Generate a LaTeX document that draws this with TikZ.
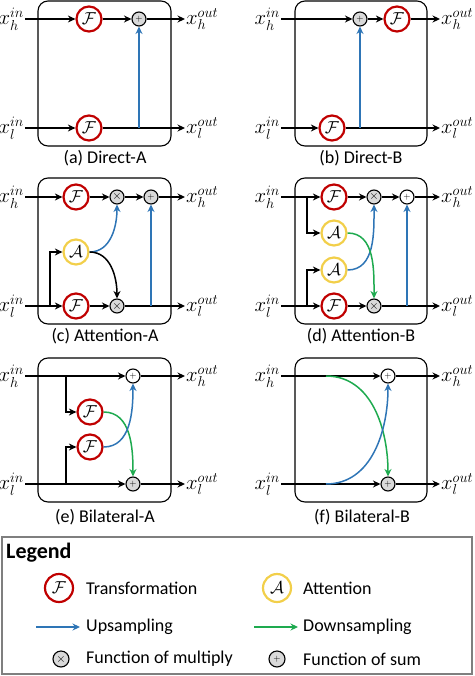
\documentclass[tikz,border=0pt]{standalone}
\usepackage{fontspec}
\setmainfont{Carlito}
\usetikzlibrary{arrows.meta}
\definecolor{fred}{HTML}{C00000}
\definecolor{agold}{HTML}{F2CF4A}
\definecolor{upblue}{HTML}{2E75B6}
\definecolor{dngreen}{HTML}{1EAA4F}
\definecolor{opgray}{HTML}{D9D9D9}
\definecolor{lgframe}{HTML}{7F7F7F}
\tikzset{
 fnode/.style={circle, draw=fred, line width=2.2pt, minimum size=25pt, inner sep=0pt, fill=white, font=\fontsize{17}{17}\selectfont},
 anode/.style={fnode, draw=agold},
 opnode/.style={circle, draw=black, line width=1.1pt, minimum size=14pt, inner sep=0pt, fill=opgray, font=\fontsize{9}{9}\selectfont},
 opw/.style={opnode, fill=white},
 tnode/.style={opnode, font=\fontsize{12}{12}\selectfont},
 panel/.style={draw, line width=1.1pt, rounded corners=10pt},
 conn/.style={line width=1.5pt, -{Stealth[length=7.5pt,width=7pt]}},
 upar/.style={conn, draw=upblue},
 dnar/.style={conn, draw=dngreen},
 lab/.style={inner sep=1pt, font=\fontsize{20}{20}\selectfont},
 captxt/.style={inner sep=0pt, font=\fontsize{18}{18}\selectfont},
}
\begin{document}
\begin{tikzpicture}[x=1pt,y=-1pt]
\useasboundingbox (0,0) rectangle (474,676);
% ---------- (a) Direct-A
\draw[panel] (38,1) rectangle (171,146);
\node[lab, anchor=east] (ahin) at (25,19) {$x^{in}_h$};
\node[lab, anchor=east] (alin) at (25,128) {$x^{in}_l$};
\node[lab, anchor=west] (ahout) at (185,19) {$x^{out}_h$};
\node[lab, anchor=west] (alout) at (185,128) {$x^{out}_l$};
\node[fnode] (aF1) at (89,19) {$\mathcal{F}$};
\node[fnode] (aF2) at (89,128) {$\mathcal{F}$};
\node[opnode] (aS) at (139,19) {$+$};
\coordinate (aj) at (139,128);
\draw[conn] (ahin) -- (aF1);
\draw[conn] (aF1) -- (aS);
\draw[conn] (aS) -- (ahout);
\draw[conn] (alin) -- (aF2);
\draw[conn] (aF2) -- (alout);
\draw[upar] (aj) -- (aS);
\node[captxt] (acap) at (105,158) {(a) Direct-A};
% ---------- (b) Direct-B
\draw[panel] (295,1) rectangle (427,146);
\node[lab, anchor=east] (bhin) at (281,19) {$x^{in}_h$};
\node[lab, anchor=east] (blin) at (281,128) {$x^{in}_l$};
\node[lab, anchor=west] (bhout) at (440,19) {$x^{out}_h$};
\node[lab, anchor=west] (blout) at (440,128) {$x^{out}_l$};
\node[opnode] (bS) at (360,19) {$+$};
\node[fnode] (bF1) at (397,19) {$\mathcal{F}$};
\node[fnode] (bF2) at (332,128) {$\mathcal{F}$};
\coordinate (bj) at (360,128);
\draw[conn] (bhin) -- (bS);
\draw[conn] (bS) -- (bF1);
\draw[conn] (bF1) -- (bhout);
\draw[conn] (blin) -- (bF2);
\draw[conn] (bF2) -- (blout);
\draw[upar] (bj) -- (bS);
\node[captxt] (bcap) at (361,158) {(b) Direct-B};
% ---------- (c) Attention-A
\draw[panel] (38,178) rectangle (171,324);
\node[lab, anchor=east] (chin) at (25,197) {$x^{in}_h$};
\node[lab, anchor=east] (clin) at (25,306) {$x^{in}_l$};
\node[lab, anchor=west] (chout) at (185,197) {$x^{out}_h$};
\node[lab, anchor=west] (clout) at (185,306) {$x^{out}_l$};
\node[fnode] (cF1) at (76,197) {$\mathcal{F}$};
\node[fnode] (cF2) at (76,306) {$\mathcal{F}$};
\node[anode] (cA) at (76,252) {$\mathcal{A}$};
\node[tnode] (cT1) at (117,197) {$\times$};
\node[opnode] (cS) at (151,197) {$+$};
\node[tnode] (cT2) at (117,306) {$\times$};
\coordinate (cbr) at (50,306);
\coordinate (cj) at (151,306);
\draw[conn] (chin) -- (cF1);
\draw[conn] (cF1) -- (cT1);
\draw[conn] (cT1) -- (cS);
\draw[conn] (cS) -- (chout);
\draw[conn] (clin) -- (cF2);
\draw[conn] (cF2) -- (cT2);
\draw[conn] (cT2) -- (clout);
\draw[conn] (cbr) |- (cA);
\draw[upar] (cA.east) to[out=0,in=-90] (cT1.south);
\draw[conn] (cA.east) to[out=0,in=90] (cT2.north);
\draw[upar] (cj) -- (cS);
\node[captxt] (ccap) at (105,336) {(c) Attention-A};
% ---------- (d) Attention-B
\draw[panel] (295,178) rectangle (427,324);
\node[lab, anchor=east] (dhin) at (281,197) {$x^{in}_h$};
\node[lab, anchor=east] (dlin) at (281,306) {$x^{in}_l$};
\node[lab, anchor=west] (dhout) at (440,197) {$x^{out}_h$};
\node[lab, anchor=west] (dlout) at (440,306) {$x^{out}_l$};
\node[fnode] (dF1) at (334,197) {$\mathcal{F}$};
\node[fnode] (dF2) at (334,306) {$\mathcal{F}$};
\node[anode] (dA1) at (334,233) {$\mathcal{A}$};
\node[anode] (dA2) at (334,270) {$\mathcal{A}$};
\node[tnode] (dT1) at (374,197) {$\times$};
\node[opw] (dS) at (407,197) {$+$};
\node[tnode] (dT2) at (374,306) {$\times$};
\coordinate (dbr1) at (307,197);
\coordinate (dbr2) at (307,306);
\coordinate (dj) at (407,306);
\draw[conn] (dhin) -- (dF1);
\draw[conn] (dF1) -- (dT1);
\draw[conn] (dT1) -- (dS);
\draw[conn] (dS) -- (dhout);
\draw[conn] (dlin) -- (dF2);
\draw[conn] (dF2) -- (dT2);
\draw[conn] (dT2) -- (dlout);
\draw[conn] (dbr1) |- (dA1);
\draw[conn] (dbr2) |- (dA2);
\draw[upar] (dA2.east) to[out=0,in=-90] (dT1.south);
\draw[dnar] (dA1.east) to[out=0,in=90] (dT2.north);
\draw[upar] (dj) -- (dS);
\node[captxt] (dcap) at (361,336) {(d) Attention-B};
% ---------- (e) Bilateral-A
\draw[panel] (38,358) rectangle (171,502);
\node[lab, anchor=east] (ehin) at (25,376) {$x^{in}_h$};
\node[lab, anchor=east] (elin) at (25,484) {$x^{in}_l$};
\node[lab, anchor=west] (ehout) at (185,376) {$x^{out}_h$};
\node[lab, anchor=west] (elout) at (185,484) {$x^{out}_l$};
\node[opw] (eS1) at (133,376) {$+$};
\node[opnode] (eS2) at (133,484) {$+$};
\node[fnode] (eF1) at (90,412) {$\mathcal{F}$};
\node[fnode] (eF2) at (90,447) {$\mathcal{F}$};
\coordinate (ebr1) at (66,376);
\coordinate (ebr2) at (66,484);
\draw[conn] (ehin) -- (eS1);
\draw[conn] (eS1) -- (ehout);
\draw[conn] (elin) -- (eS2);
\draw[conn] (eS2) -- (elout);
\draw[conn] (ebr1) |- (eF1);
\draw[conn] (ebr2) |- (eF2);
\draw[dnar] (eF1.east) to[out=0,in=90] (eS2.north);
\draw[upar] (eF2.east) to[out=0,in=-90] (eS1.south);
\node[captxt] (ecap) at (105,517) {(e) Bilateral-A};
% ---------- (f) Bilateral-B
\draw[panel] (295,358) rectangle (427,502);
\node[lab, anchor=east] (fhin) at (281,376) {$x^{in}_h$};
\node[lab, anchor=east] (flin) at (281,484) {$x^{in}_l$};
\node[lab, anchor=west] (fhout) at (440,376) {$x^{out}_h$};
\node[lab, anchor=west] (flout) at (440,484) {$x^{out}_l$};
\node[opw] (fS1) at (388,376) {$+$};
\node[opnode] (fS2) at (388,484) {$+$};
\coordinate (fg) at (326,376);
\coordinate (fb) at (326,484);
\draw[conn] (fhin) -- (fS1);
\draw[conn] (fS1) -- (fhout);
\draw[conn] (flin) -- (fS2);
\draw[conn] (fS2) -- (flout);
\draw[dnar] (fg) to[out=0,in=90] (fS2.north);
\draw[upar] (fb) to[out=0,in=-90] (fS1.south);
\node[captxt] (fcap) at (362,517) {(f) Bilateral-B};
% ---------- Legend
\draw[draw=lgframe, line width=2.5pt] (2,537) rectangle (472,674);
\node[inner sep=0pt, anchor=west, font=\bfseries\fontsize{22}{22}\selectfont] (lgt) at (6,553) {Legend};
\node[fnode, minimum size=28pt] (lF) at (59,588) {$\mathcal{F}$};
\node[captxt, anchor=west] (lFt) at (86,588) {Transformation};
\node[anode, minimum size=28pt] (lA) at (277,588) {$\mathcal{A}$};
\node[captxt, anchor=west] (lAt) at (303,588) {Attention};
\coordinate (lu1) at (36,627);
\coordinate (lu2) at (80,627);
\draw[upar, line width=1.1pt] (lu1) -- (lu2);
\node[captxt, anchor=west] (lUt) at (86,627) {Upsampling};
\coordinate (ld1) at (254,627);
\coordinate (ld2) at (298,627);
\draw[dnar, line width=1.1pt] (ld1) -- (ld2);
\node[captxt, anchor=west] (lDt) at (303,627) {Downsampling};
\node[tnode, minimum size=16pt] (lT) at (61,659) {$\times$};
\node[captxt, anchor=west] (lTt) at (86,659) {Function of multiply};
\node[opnode, minimum size=16pt] (lS) at (277,659) {$+$};
\node[captxt, anchor=west] (lSt) at (303,659) {Function of sum};
\end{tikzpicture}
\end{document}
